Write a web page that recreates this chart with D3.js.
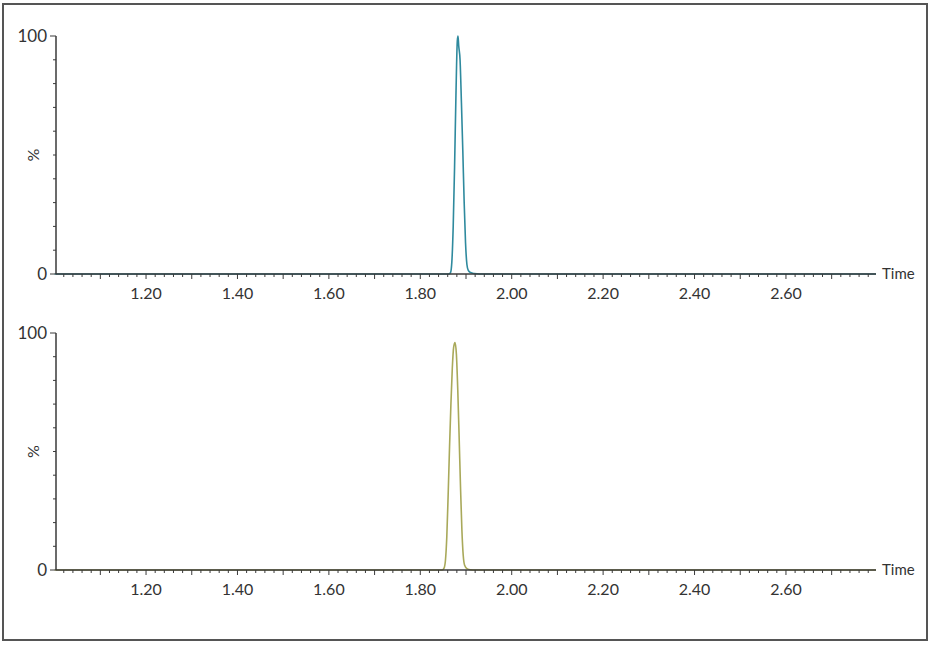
<!DOCTYPE html>
<html>
<head>
<meta charset="utf-8">
<script src="https://cdn.jsdelivr.net/npm/d3@7"></script>
<style>
  html, body { margin: 0; padding: 0; background: #fff; }
  svg { display: block; }
  text { font-family: Lato, "Open Sans", sans-serif; fill: #333; }
</style>
</head>
<body>
<svg id="chart" width="933" height="647"></svg>
<script>
// ---- Data ----
const timeDomain = [1.003, 2.797];
const xTickLabels = ["1.20", "1.40", "1.60", "1.80", "2.00", "2.20", "2.40", "2.60"];
const yTickLabels = ["0", "100"];

const topTime = [1.000, 1.862, 1.866, 1.869, 1.872, 1.875, 1.878, 1.881, 1.8825, 1.884, 1.887, 1.890, 1.893, 1.896, 1.899, 1.902, 1.905, 1.910, 1.918, 1.930, 2.797];
const topPct  = [0,     0,     0.5,   5,     20,    45,    75,    98,    100,    96,    90,    72,    52,    30,    13,    4,     1.5,   0.6,   0.2,   0,     0];

const botTime = [1.000, 1.848, 1.852, 1.855, 1.858, 1.861, 1.864, 1.867, 1.870, 1.873, 1.876, 1.879, 1.882, 1.885, 1.888, 1.891, 1.894, 1.897, 1.902, 1.910, 1.920, 2.797];
const botPct  = [0,     0,     0.8,   4,     14,    32,    52,    70,    85,    94,    96,    91,    76,    56,    35,    17,    6,     2,     0.6,   0.1,   0,     0];

const panels = [
  { time: topTime, pct: topPct, color: "#2f8a9e", top: 36,  bottom: 274 },
  { time: botTime, pct: botPct, color: "#a9a95a", top: 333, bottom: 570 }
];

// ---- Drawing ----
const svg = d3.select("#chart");
const axisColor = "#3a3a3a";

svg.append("rect")
  .attr("x", 3).attr("y", 4).attr("width", 924).attr("height", 636)
  .attr("fill", "none").attr("stroke", "#555").attr("stroke-width", 2);

const x = d3.scaleLinear().domain(timeDomain).range([56, 876]);

panels.forEach(p => {
  const y = d3.scaleLinear().domain([0, 100]).range([p.bottom, p.top]);
  const g = svg.append("g");

  // trace (drawn first so axes sit on top)
  const pts = p.time.map((t, i) => [t, p.pct[i]]);
  g.append("path")
    .datum(pts)
    .attr("fill", "none")
    .attr("stroke", p.color)
    .attr("stroke-width", 1.6)
    .attr("stroke-linejoin", "round")
    .attr("d", d3.line().x(d => x(d[0])).y(d => y(d[1])).curve(d3.curveMonotoneX));

  // x-axis line
  g.append("line")
    .attr("x1", x.range()[0]).attr("x2", x.range()[1])
    .attr("y1", p.bottom).attr("y2", p.bottom)
    .attr("stroke", axisColor).attr("stroke-width", 1.5);

  // x ticks
  const minor = d3.range(1.02, 2.7901, 0.02).map(v => +v.toFixed(2));
  minor.forEach(v => {
    const isMajor = Math.abs(Math.round(v * 10) - v * 10) < 1e-6;
    g.append("line")
      .attr("x1", x(v)).attr("x2", x(v))
      .attr("y1", p.bottom).attr("y2", p.bottom + (isMajor ? 5 : 3))
      .attr("stroke", axisColor).attr("stroke-width", 1);
  });
  xTickLabels.forEach(t => {
    g.append("text")
      .attr("x", x(+t)).attr("y", p.bottom + 25)
      .attr("text-anchor", "middle")
      .attr("font-size", 16)
      .text(t);
  });

  g.append("text")
    .attr("x", 882).attr("y", p.bottom + 5)
    .attr("font-size", 15)
    .text("Time");

  // y-axis line
  g.append("line")
    .attr("x1", 56).attr("x2", 56)
    .attr("y1", p.top).attr("y2", p.bottom)
    .attr("stroke", axisColor).attr("stroke-width", 1.5);

  d3.range(0, 101, 10).forEach(v => {
    const isMajor = v === 0 || v === 100;
    g.append("line")
      .attr("x1", 56).attr("x2", 56 - (isMajor ? 6 : 3))
      .attr("y1", y(v)).attr("y2", y(v))
      .attr("stroke", axisColor).attr("stroke-width", 1);
  });
  yTickLabels.forEach(t => {
    g.append("text")
      .attr("x", 47).attr("y", y(+t) + 6)
      .attr("text-anchor", "end")
      .attr("font-size", 17)
      .text(t);
  });

  g.append("text")
    .attr("transform", `translate(39,${y(50)}) rotate(-90)`)
    .attr("text-anchor", "middle")
    .attr("font-size", 16)
    .text("%");
});
</script>
</body>
</html>
